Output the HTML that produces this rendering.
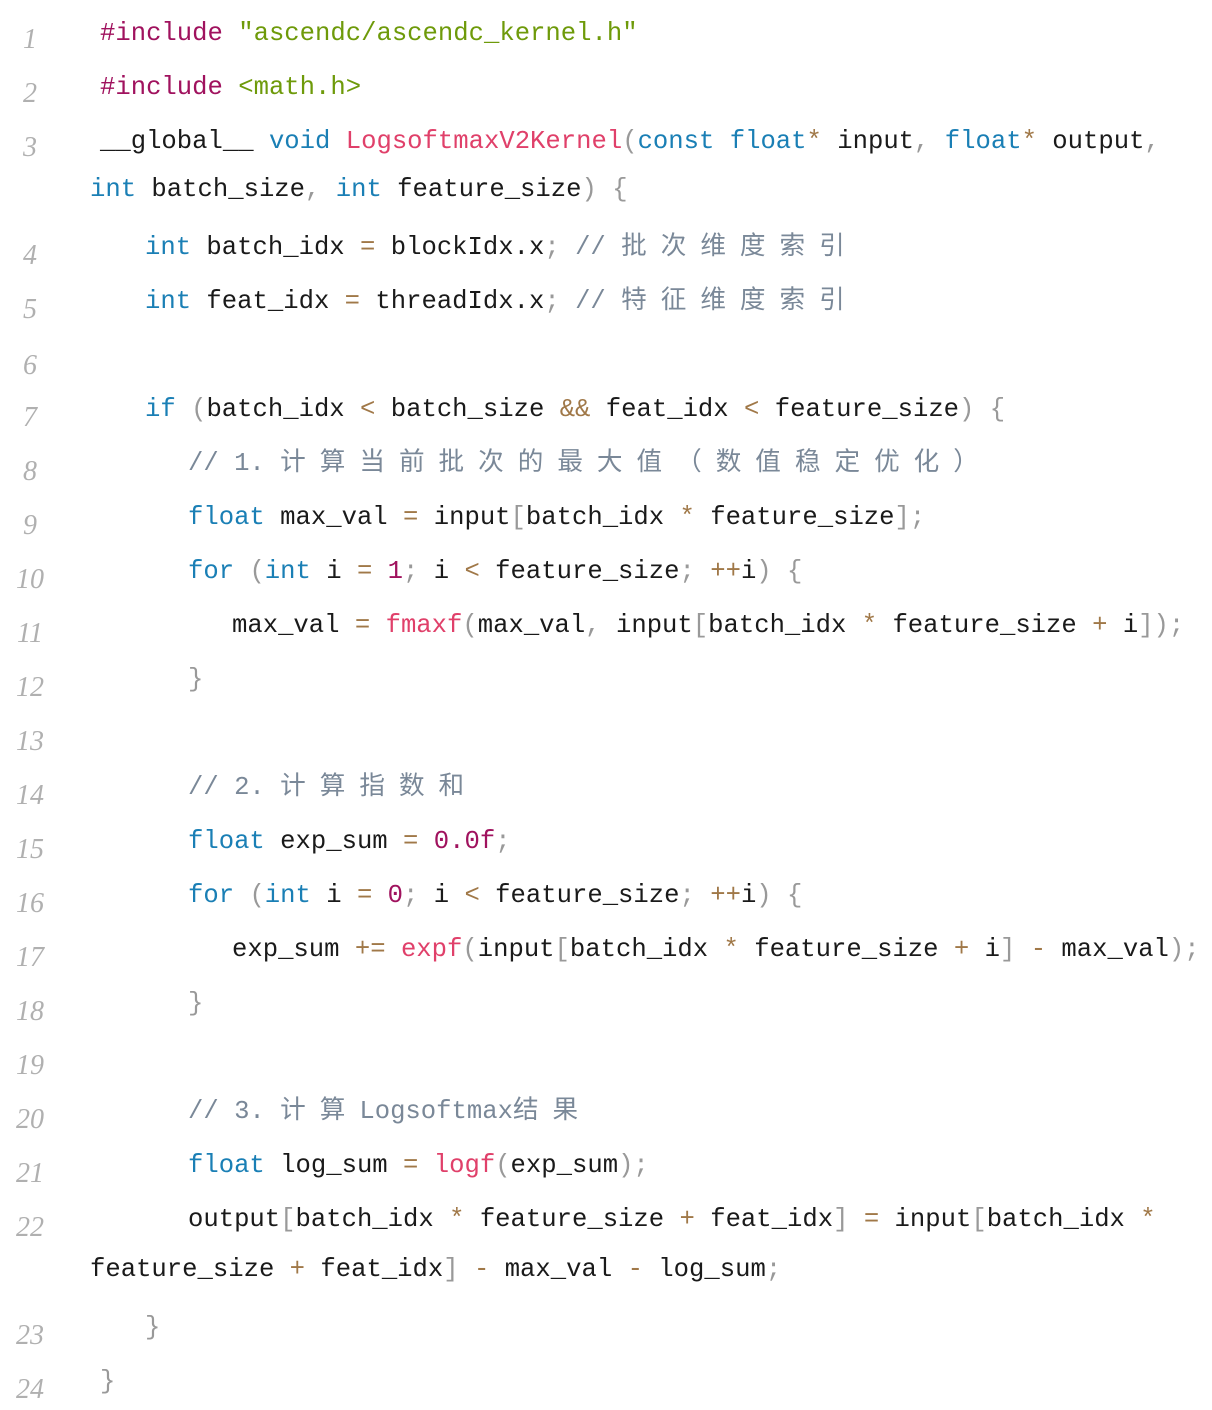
<!DOCTYPE html>
<html><head><meta charset="utf-8"><style>
body{margin:0;width:1212px;height:1404px;background:#fff;overflow:hidden;position:relative;font-family:"Liberation Mono","Noto Sans CJK SC",monospace;font-size:25.6px;color:#1a1a1a}
.l{position:absolute;white-space:pre;line-height:40px}
.n{position:absolute;left:10px;width:40px;text-align:center;color:#b0b0b0;font-family:"Liberation Serif",serif;font-style:italic;font-size:28px;line-height:40px}
.k{color:#1a7fb5}.p{color:#a0125e}.s{color:#6e9a0a}.f{color:#e0406a}.o{color:#a07848}.c{color:#7a8898}.g{color:#999}
.z{letter-spacing:14px}
</style></head><body>
<div class="n" style="top:20px">1</div>
<div class="n" style="top:74px">2</div>
<div class="n" style="top:128px">3</div>
<div class="n" style="top:236px">4</div>
<div class="n" style="top:290px">5</div>
<div class="n" style="top:346px">6</div>
<div class="n" style="top:398px">7</div>
<div class="n" style="top:452px">8</div>
<div class="n" style="top:506px">9</div>
<div class="n" style="top:560px">10</div>
<div class="n" style="top:614px">11</div>
<div class="n" style="top:668px">12</div>
<div class="n" style="top:722px">13</div>
<div class="n" style="top:776px">14</div>
<div class="n" style="top:830px">15</div>
<div class="n" style="top:884px">16</div>
<div class="n" style="top:938px">17</div>
<div class="n" style="top:992px">18</div>
<div class="n" style="top:1046px">19</div>
<div class="n" style="top:1100px">20</div>
<div class="n" style="top:1154px">21</div>
<div class="n" style="top:1208px">22</div>
<div class="n" style="top:1316px">23</div>
<div class="n" style="top:1370px">24</div>

<div class="l" style="left:100px;top:14px"><span class="p">#include</span> <span class="s">"ascendc/ascendc_kernel.h"</span></div>
<div class="l" style="left:100px;top:68px"><span class="p">#include</span> <span class="s">&lt;math.h&gt;</span></div>
<div class="l" style="left:100px;top:122px">__global__ <span class="k">void</span> <span class="f">LogsoftmaxV2Kernel</span><span class="g">(</span><span class="k">const float</span><span class="o">*</span> input<span class="g">,</span> <span class="k">float</span><span class="o">*</span> output<span class="g">,</span></div>
<div class="l" style="left:90px;top:170px"><span class="k">int</span> batch_size<span class="g">,</span> <span class="k">int</span> feature_size<span class="g">) {</span></div>
<div class="l" style="left:145px;top:228px"><span class="k">int</span> batch_idx <span class="o">=</span> blockIdx.x<span class="g">;</span> <span class="c">// <span class="z">批次维度索引</span></span></div>
<div class="l" style="left:145px;top:282px"><span class="k">int</span> feat_idx <span class="o">=</span> threadIdx.x<span class="g">;</span> <span class="c">// <span class="z">特征维度索引</span></span></div>
<div class="l" style="left:145px;top:390px"><span class="k">if</span> <span class="g">(</span>batch_idx <span class="o">&lt;</span> batch_size <span class="o">&amp;&amp;</span> feat_idx <span class="o">&lt;</span> feature_size<span class="g">) {</span></div>
<div class="l" style="left:188px;top:444px"><span class="c">// 1. <span class="z">计算当前批次的最大值（数值稳定优化）</span></span></div>
<div class="l" style="left:188px;top:498px"><span class="k">float</span> max_val <span class="o">=</span> input<span class="g">[</span>batch_idx <span class="o">*</span> feature_size<span class="g">];</span></div>
<div class="l" style="left:188px;top:552px"><span class="k">for</span> <span class="g">(</span><span class="k">int</span> i <span class="o">=</span> <span class="p">1</span><span class="g">;</span> i <span class="o">&lt;</span> feature_size<span class="g">;</span> <span class="o">++</span>i<span class="g">) {</span></div>
<div class="l" style="left:232px;top:606px">max_val <span class="o">=</span> <span class="f">fmaxf</span><span class="g">(</span>max_val<span class="g">,</span> input<span class="g">[</span>batch_idx <span class="o">*</span> feature_size <span class="o">+</span> i<span class="g">]);</span></div>
<div class="l" style="left:188px;top:660px"><span class="g">}</span></div>
<div class="l" style="left:188px;top:768px"><span class="c">// 2. <span class="z">计算指数和</span></span></div>
<div class="l" style="left:188px;top:822px"><span class="k">float</span> exp_sum <span class="o">=</span> <span class="p">0.0f</span><span class="g">;</span></div>
<div class="l" style="left:188px;top:876px"><span class="k">for</span> <span class="g">(</span><span class="k">int</span> i <span class="o">=</span> <span class="p">0</span><span class="g">;</span> i <span class="o">&lt;</span> feature_size<span class="g">;</span> <span class="o">++</span>i<span class="g">) {</span></div>
<div class="l" style="left:232px;top:930px">exp_sum <span class="o">+=</span> <span class="f">expf</span><span class="g">(</span>input<span class="g">[</span>batch_idx <span class="o">*</span> feature_size <span class="o">+</span> i<span class="g">]</span> <span class="o">-</span> max_val<span class="g">);</span></div>
<div class="l" style="left:188px;top:984px"><span class="g">}</span></div>
<div class="l" style="left:188px;top:1092px"><span class="c">// 3. <span class="z">计算</span>Logsoftmax<span class="z">结果</span></span></div>
<div class="l" style="left:188px;top:1146px"><span class="k">float</span> log_sum <span class="o">=</span> <span class="f">logf</span><span class="g">(</span>exp_sum<span class="g">);</span></div>
<div class="l" style="left:188px;top:1200px">output<span class="g">[</span>batch_idx <span class="o">*</span> feature_size <span class="o">+</span> feat_idx<span class="g">]</span> <span class="o">=</span> input<span class="g">[</span>batch_idx <span class="o">*</span></div>
<div class="l" style="left:90px;top:1250px">feature_size <span class="o">+</span> feat_idx<span class="g">]</span> <span class="o">-</span> max_val <span class="o">-</span> log_sum<span class="g">;</span></div>
<div class="l" style="left:145px;top:1308px"><span class="g">}</span></div>
<div class="l" style="left:100px;top:1362px"><span class="g">}</span></div>
</body></html>
